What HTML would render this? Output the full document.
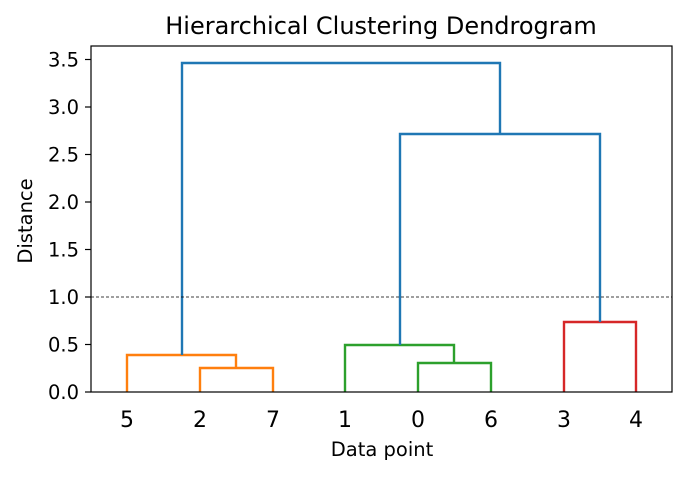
<!DOCTYPE html>
<html><head><style>body{margin:0;background:#fff}</style></head><body>
<svg width="687" height="474" xmlns="http://www.w3.org/2000/svg" font-family="DejaVu Sans, Liberation Sans, sans-serif">
<rect width="687" height="474" fill="#fff"/>
<text x="381" y="34" font-size="24" text-anchor="middle">Hierarchical Clustering Dendrogram</text>
<g stroke-width="2.4" fill="none">
<path d="M127,392V355H236V368" stroke="#ff7f0e"/>
<path d="M200,392V368H273V392" stroke="#ff7f0e"/>
<path d="M418,392V363H491V392" stroke="#2ca02c"/>
<path d="M345,392V345H454V363" stroke="#2ca02c"/>
<path d="M564,392V322H636V392" stroke="#d62728"/>
<path d="M400,345V134H600V322" stroke="#1f77b4"/>
<path d="M182,355V63H500V134" stroke="#1f77b4"/>
</g>
<line x1="91" x2="672" y1="297" y2="297" stroke="#000" stroke-width="0.8" stroke-dasharray="3,2"/>
<rect x="91" y="46" width="581" height="346" fill="none" stroke="#000" stroke-width="1.2"/>
<g stroke="#000" stroke-width="1.2">
<line x1="85" x2="91" y1="392" y2="392"/><line x1="85" x2="91" y1="344.5" y2="344.5"/><line x1="85" x2="91" y1="297" y2="297"/><line x1="85" x2="91" y1="249.5" y2="249.5"/><line x1="85" x2="91" y1="202" y2="202"/><line x1="85" x2="91" y1="154.5" y2="154.5"/><line x1="85" x2="91" y1="107" y2="107"/><line x1="85" x2="91" y1="59.5" y2="59.5"/>
</g>
<g font-size="19.5" text-anchor="end">
<text x="79" y="399">0.0</text><text x="79" y="351.5">0.5</text><text x="79" y="304">1.0</text><text x="79" y="256.5">1.5</text><text x="79" y="209">2.0</text><text x="79" y="161.5">2.5</text><text x="79" y="114">3.0</text><text x="79" y="66.5">3.5</text>
</g>
<g font-size="22" text-anchor="middle">
<text x="127" y="427">5</text><text x="200" y="427">2</text><text x="273" y="427">7</text><text x="345" y="427">1</text><text x="418" y="427">0</text><text x="491" y="427">6</text><text x="564" y="427">3</text><text x="636" y="427">4</text>
</g>
<text x="382" y="456" font-size="19.5" text-anchor="middle">Data point</text>
<text x="0" y="0" font-size="19.5" text-anchor="middle" transform="translate(32,221) rotate(-90)">Distance</text>
</svg>
</body></html>
